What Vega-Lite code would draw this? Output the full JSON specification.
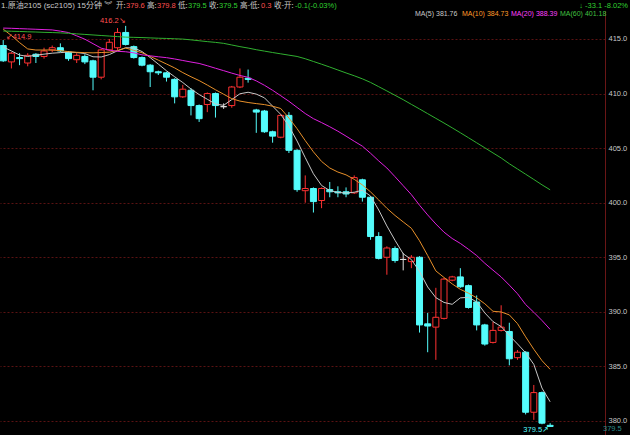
{
"$schema": "https://vega.github.io/schema/vega-lite/v6.json",
"width": 605, "height": 424,
"autosize": "none",
"padding": {"left": 0, "top": 11, "right": 25, "bottom": 0},
"background": "#000000",
"config": {"view": {"stroke": null}, "font": "Liberation Sans"},
"datasets": {
"k": [
{"i":0,"o":414.4,"h":414.9,"l":412.9,"c":413.0,"ma5":414.27,"ma10":415.9,"ma20":416.0,"ma60":415.73},
{"i":1,"o":412.9,"h":413.8,"l":412.3,"c":413.7,"ma5":413.9,"ma10":415.32,"ma20":415.98,"ma60":415.71},
{"i":2,"o":413.3,"h":413.7,"l":412.6,"c":413.2,"ma5":413.53,"ma10":414.67,"ma20":415.95,"ma60":415.69},
{"i":3,"o":412.8,"h":413.7,"l":412.5,"c":413.5,"ma5":413.4,"ma10":414.09,"ma20":415.92,"ma60":415.66},
{"i":4,"o":413.6,"h":413.7,"l":412.8,"c":413.4,"ma5":413.52,"ma10":413.99,"ma20":415.89,"ma60":415.64},
{"i":5,"o":413.4,"h":414.2,"l":413.2,"c":413.9,"ma5":413.61,"ma10":413.99,"ma20":415.86,"ma60":415.61},
{"i":6,"o":414.0,"h":414.4,"l":413.8,"c":414.2,"ma5":413.7,"ma10":413.99,"ma20":415.83,"ma60":415.59},
{"i":7,"o":414.2,"h":414.6,"l":413.8,"c":413.9,"ma5":413.75,"ma10":413.93,"ma20":415.72,"ma60":415.56},
{"i":8,"o":413.8,"h":413.9,"l":413.0,"c":413.2,"ma5":413.8,"ma10":413.84,"ma20":415.59,"ma60":415.52},
{"i":9,"o":413.1,"h":413.7,"l":412.8,"c":413.5,"ma5":413.76,"ma10":413.78,"ma20":415.29,"ma60":415.47},
{"i":10,"o":413.4,"h":413.6,"l":412.7,"c":412.9,"ma5":413.67,"ma10":413.75,"ma20":414.98,"ma60":415.42},
{"i":11,"o":413.0,"h":413.1,"l":410.3,"c":411.5,"ma5":413.37,"ma10":413.73,"ma20":414.57,"ma60":415.37},
{"i":12,"o":411.5,"h":414.1,"l":411.3,"c":414.0,"ma5":413.35,"ma10":413.76,"ma20":414.16,"ma60":415.32},
{"i":13,"o":414.0,"h":415.0,"l":413.9,"c":414.7,"ma5":413.57,"ma10":413.79,"ma20":413.98,"ma60":415.27},
{"i":14,"o":414.2,"h":416.0,"l":414.0,"c":415.6,"ma5":413.92,"ma10":413.94,"ma20":413.87,"ma60":415.22},
{"i":15,"o":415.6,"h":416.2,"l":414.4,"c":414.5,"ma5":414.2,"ma10":414.17,"ma20":413.83,"ma60":415.17},
{"i":16,"o":414.3,"h":414.4,"l":413.2,"c":413.3,"ma5":414.18,"ma10":413.96,"ma20":413.73,"ma60":415.15},
{"i":17,"o":413.3,"h":413.4,"l":412.5,"c":412.6,"ma5":413.85,"ma10":413.74,"ma20":413.55,"ma60":415.13},
{"i":18,"o":412.6,"h":412.7,"l":410.6,"c":412.0,"ma5":413.3,"ma10":413.41,"ma20":413.46,"ma60":415.1},
{"i":19,"o":412.0,"h":412.1,"l":411.7,"c":411.9,"ma5":412.7,"ma10":413.06,"ma20":413.37,"ma60":415.07},
{"i":20,"o":411.9,"h":412.0,"l":411.1,"c":411.5,"ma5":412.09,"ma10":412.71,"ma20":413.29,"ma60":415.05},
{"i":21,"o":411.3,"h":411.4,"l":409.1,"c":409.7,"ma5":411.54,"ma10":412.35,"ma20":413.17,"ma60":415.02},
{"i":22,"o":409.7,"h":410.8,"l":409.6,"c":410.4,"ma5":411.01,"ma10":411.92,"ma20":413.03,"ma60":414.99},
{"i":23,"o":410.3,"h":410.5,"l":408.0,"c":408.9,"ma5":410.42,"ma10":411.54,"ma20":412.89,"ma60":414.92},
{"i":24,"o":408.9,"h":409.0,"l":407.4,"c":407.7,"ma5":409.91,"ma10":411.19,"ma20":412.76,"ma60":414.84},
{"i":25,"o":409.0,"h":410.1,"l":408.3,"c":410.0,"ma5":409.48,"ma10":410.78,"ma20":412.55,"ma60":414.76},
{"i":26,"o":410.0,"h":410.1,"l":407.8,"c":408.9,"ma5":409.04,"ma10":410.35,"ma20":412.32,"ma60":414.69},
{"i":27,"o":408.8,"h":409.1,"l":408.6,"c":408.8,"ma5":408.92,"ma10":409.94,"ma20":412.1,"ma60":414.6},
{"i":28,"o":408.9,"h":410.7,"l":408.7,"c":410.6,"ma5":409.45,"ma10":409.53,"ma20":411.87,"ma60":414.45},
{"i":29,"o":410.6,"h":412.3,"l":410.5,"c":411.5,"ma5":409.98,"ma10":409.31,"ma20":411.66,"ma60":414.3},
{"i":30,"o":411.4,"h":412.2,"l":411.0,"c":411.3,"ma5":410.12,"ma10":409.18,"ma20":411.49,"ma60":414.17},
{"i":31,"o":408.5,"h":408.6,"l":406.4,"c":408.3,"ma5":409.95,"ma10":409.08,"ma20":411.16,"ma60":414.02},
{"i":32,"o":408.4,"h":408.5,"l":406.4,"c":406.5,"ma5":409.61,"ma10":408.99,"ma20":410.76,"ma60":413.89},
{"i":33,"o":406.5,"h":406.6,"l":405.5,"c":406.1,"ma5":408.85,"ma10":408.84,"ma20":410.3,"ma60":413.76},
{"i":34,"o":406.0,"h":408.1,"l":405.9,"c":408.0,"ma5":408.09,"ma10":408.63,"ma20":409.8,"ma60":413.64},
{"i":35,"o":408.0,"h":408.3,"l":404.55,"c":404.8,"ma5":407.02,"ma10":407.76,"ma20":409.29,"ma60":413.52},
{"i":36,"o":404.8,"h":404.9,"l":401.0,"c":401.2,"ma5":405.65,"ma10":406.78,"ma20":408.73,"ma60":413.4},
{"i":37,"o":401.1,"h":402.5,"l":400.0,"c":401.3,"ma5":404.13,"ma10":405.69,"ma20":408.17,"ma60":413.19},
{"i":38,"o":401.3,"h":401.4,"l":399.1,"c":400.1,"ma5":402.65,"ma10":404.66,"ma20":407.7,"ma60":412.94},
{"i":39,"o":400.2,"h":401.4,"l":399.5,"c":401.3,"ma5":401.58,"ma10":403.78,"ma20":407.34,"ma60":412.69},
{"i":40,"o":401.2,"h":401.9,"l":400.5,"c":401.0,"ma5":401.11,"ma10":403.18,"ma20":406.96,"ma60":412.43},
{"i":41,"o":401.0,"h":401.5,"l":400.5,"c":400.9,"ma5":400.94,"ma10":402.81,"ma20":406.55,"ma60":412.16},
{"i":42,"o":401.0,"h":401.4,"l":400.5,"c":400.8,"ma5":400.89,"ma10":402.55,"ma20":406.1,"ma60":411.89},
{"i":43,"o":400.9,"h":402.5,"l":400.8,"c":402.3,"ma5":400.96,"ma10":402.14,"ma20":405.63,"ma60":411.63},
{"i":44,"o":402.1,"h":402.2,"l":400.1,"c":400.5,"ma5":401.14,"ma10":401.63,"ma20":405.18,"ma60":411.35},
{"i":45,"o":400.5,"h":400.6,"l":396.6,"c":396.9,"ma5":400.61,"ma10":400.99,"ma20":404.53,"ma60":411.02},
{"i":46,"o":396.9,"h":397.3,"l":394.8,"c":394.9,"ma5":399.33,"ma10":400.25,"ma20":403.83,"ma60":410.63},
{"i":47,"o":395.0,"h":396.0,"l":393.4,"c":395.85,"ma5":397.87,"ma10":399.49,"ma20":403.18,"ma60":410.24},
{"i":48,"o":395.8,"h":396.0,"l":394.5,"c":394.7,"ma5":396.55,"ma10":398.83,"ma20":402.38,"ma60":409.84},
{"i":49,"o":394.8,"h":395.4,"l":393.8,"c":394.8,"ma5":395.32,"ma10":398.24,"ma20":401.56,"ma60":409.44},
{"i":50,"o":394.6,"h":395.2,"l":394.0,"c":395.0,"ma5":394.79,"ma10":397.66,"ma20":400.74,"ma60":409.01},
{"i":51,"o":395.0,"h":395.1,"l":388.1,"c":388.8,"ma5":393.7,"ma10":396.51,"ma20":399.77,"ma60":408.59},
{"i":52,"o":388.9,"h":389.9,"l":386.3,"c":388.7,"ma5":392.28,"ma10":395.16,"ma20":398.88,"ma60":408.16},
{"i":53,"o":388.6,"h":392.2,"l":385.6,"c":389.5,"ma5":391.3,"ma10":393.75,"ma20":398.05,"ma60":407.73},
{"i":54,"o":389.4,"h":393.1,"l":389.3,"c":393.0,"ma5":390.86,"ma10":393.15,"ma20":397.3,"ma60":407.3},
{"i":55,"o":392.9,"h":393.3,"l":392.8,"c":393.2,"ma5":390.69,"ma10":392.56,"ma20":396.72,"ma60":406.86},
{"i":56,"o":393.2,"h":394.0,"l":392.2,"c":392.3,"ma5":391.28,"ma10":392.06,"ma20":396.27,"ma60":406.41},
{"i":57,"o":392.4,"h":392.5,"l":390.3,"c":390.4,"ma5":391.33,"ma10":391.71,"ma20":395.73,"ma60":405.95},
{"i":58,"o":390.9,"h":391.5,"l":388.3,"c":388.8,"ma5":390.91,"ma10":391.28,"ma20":395.16,"ma60":405.49},
{"i":59,"o":388.8,"h":388.9,"l":386.9,"c":387.05,"ma5":389.9,"ma10":390.74,"ma20":394.45,"ma60":405.03},
{"i":60,"o":387.2,"h":389.1,"l":387.1,"c":388.3,"ma5":389.11,"ma10":390.05,"ma20":393.82,"ma60":404.56},
{"i":61,"o":388.3,"h":390.6,"l":388.2,"c":388.6,"ma5":388.65,"ma10":389.99,"ma20":393.2,"ma60":404.1},
{"i":62,"o":388.2,"h":389.0,"l":385.1,"c":385.7,"ma5":387.83,"ma10":389.72,"ma20":392.45,"ma60":403.57},
{"i":63,"o":385.8,"h":386.5,"l":385.6,"c":386.3,"ma5":387.06,"ma10":388.92,"ma20":391.66,"ma60":403.09},
{"i":64,"o":386.3,"h":386.4,"l":380.6,"c":380.8,"ma5":386.25,"ma10":387.71,"ma20":390.67,"ma60":402.61},
{"i":65,"o":380.8,"h":383.3,"l":380.1,"c":382.6,"ma5":385.19,"ma10":386.57,"ma20":389.96,"ma60":402.13},
{"i":66,"o":382.6,"h":382.7,"l":379.7,"c":379.8,"ma5":383.02,"ma10":385.53,"ma20":389.21,"ma60":401.64},
{"i":67,"o":379.6,"h":379.8,"l":379.5,"c":379.5,"ma5":381.76,"ma10":384.73,"ma20":388.39,"ma60":401.18}
]},
"layer": [
{"data": {"name": "k"},
 "mark": {"type": "rule", "strokeWidth": 1, "clip": true},
 "encoding": {
  "x": {"field": "i", "type": "quantitative", "scale": {"domain": [0.217, 73.11], "nice": false, "zero": false}, "axis": null},
  "y": {"field": "l", "type": "quantitative", "title": null, "scale": {"domain": [378.715, 417.565], "nice": false, "zero": false},
        "axis": {"orient": "right", "values": [380,385,390,395,400,405,410,415], "format": ".1f", "title": null, "grid": true, "gridColor": "#5a1212", "gridDash": [2,2], "gridWidth": 1, "domainColor": "#6a1616", "ticks": false, "labelPadding": 3, "labelColor": "#c8c8c8", "labelFontSize": 7.5, "labelFont": "Liberation Sans"}},
  "y2": {"field": "h"},
  "color": {"condition": [{"test": "datum.c > datum.o", "value": "#ff3232"}, {"test": "datum.c == datum.o", "value": "#e0e0e0"}], "value": "#54fcfc"}
 }},
{"data": {"name": "k"},
 "mark": {"type": "bar", "width": 6, "strokeWidth": 1, "clip": true},
 "encoding": {
  "x": {"field": "i", "type": "quantitative"},
  "y": {"field": "o", "type": "quantitative", "title": null},
  "y2": {"field": "c"},
  "fill": {"condition": [{"test": "datum.c > datum.o", "value": "#000000"}, {"test": "datum.c == datum.o", "value": "#e0e0e0"}], "value": "#54fcfc"},
  "stroke": {"condition": [{"test": "datum.c > datum.o", "value": "#ff3232"}, {"test": "datum.c == datum.o", "value": "#e0e0e0"}], "value": "#54fcfc"}
 }},
{"data": {"name": "k"}, "mark": {"type": "line", "strokeWidth": 1, "color": "#c8c8c8", "clip": true},
 "encoding": {"x": {"field": "i", "type": "quantitative"}, "y": {"field": "ma5", "type": "quantitative", "title": null}}},
{"data": {"name": "k"}, "mark": {"type": "line", "strokeWidth": 1, "color": "#e8902a", "clip": true},
 "encoding": {"x": {"field": "i", "type": "quantitative"}, "y": {"field": "ma10", "type": "quantitative", "title": null}}},
{"data": {"name": "k"}, "mark": {"type": "line", "strokeWidth": 1, "color": "#e020e0", "clip": true},
 "encoding": {"x": {"field": "i", "type": "quantitative"}, "y": {"field": "ma20", "type": "quantitative", "title": null}}},
{"data": {"name": "k"}, "mark": {"type": "line", "strokeWidth": 1, "color": "#30b030", "clip": true},
 "encoding": {"x": {"field": "i", "type": "quantitative"}, "y": {"field": "ma60", "type": "quantitative", "title": null}}},
{"data": {"values": [{}]}, "mark": {"type": "text", "text": "416.2↘", "align": "right", "baseline": "bottom", "dx": 0, "dy": -1, "fontSize": 7.5, "color": "#ff5050"},
 "encoding": {"x": {"datum": 15, "type": "quantitative"}, "y": {"datum": 416.2, "type": "quantitative"}}},
{"data": {"values": [{}]}, "mark": {"type": "text", "text": "↙414.9", "align": "left", "baseline": "middle", "dx": 0, "dy": -3, "fontSize": 7.5, "color": "#ff5050"},
 "encoding": {"x": {"datum": 0.3, "type": "quantitative"}, "y": {"datum": 414.9, "type": "quantitative"}}},
{"data": {"values": [{}]}, "mark": {"type": "text", "text": "379.5↗", "align": "right", "baseline": "top", "dx": -1, "dy": 0, "fontSize": 7.5, "color": "#54fcfc"},
 "encoding": {"x": {"datum": 67, "type": "quantitative"}, "y": {"datum": 379.5, "type": "quantitative"}}},
{"data": {"values": [{}]}, "mark": {"type": "text", "text": "379.5", "align": "left", "baseline": "middle", "dx": 3, "dy": 3, "fontSize": 7.5, "color": "#2a8c8c"},
 "encoding": {"x": {"datum": 73.11, "type": "quantitative"}, "y": {"datum": 379.5, "type": "quantitative"}}},
{"data": {"values": [{}]}, "mark": {"type": "rule", "x": 0, "x2": 630, "y": -1, "color": "#8a1a1a", "strokeWidth": 1}, "encoding": {}},
{"data": {"values": [{}]}, "mark": {"type": "text", "text": "1.原油2105 (sc2105) 15分钟 ︾", "x": 1, "y": -5, "align": "left", "baseline": "middle", "fontSize": 8, "font": "Liberation Sans, Noto Sans CJK SC", "color": "#c8c8c8"}},
{"data": {"values": [{}]}, "mark": {"type": "text", "text": "开:", "x": 116, "y": -5, "align": "left", "baseline": "middle", "fontSize": 7.5, "font": "Noto Sans CJK SC", "color": "#c8c8c8"}},
{"data": {"values": [{}]}, "mark": {"type": "text", "text": "379.6", "x": 126, "y": -5, "align": "left", "baseline": "middle", "fontSize": 7.5, "color": "#ff5050"}},
{"data": {"values": [{}]}, "mark": {"type": "text", "text": "高:", "x": 147, "y": -5, "align": "left", "baseline": "middle", "fontSize": 7.5, "font": "Noto Sans CJK SC", "color": "#c8c8c8"}},
{"data": {"values": [{}]}, "mark": {"type": "text", "text": "379.8", "x": 157, "y": -5, "align": "left", "baseline": "middle", "fontSize": 7.5, "color": "#ff5050"}},
{"data": {"values": [{}]}, "mark": {"type": "text", "text": "低:", "x": 178, "y": -5, "align": "left", "baseline": "middle", "fontSize": 7.5, "font": "Noto Sans CJK SC", "color": "#c8c8c8"}},
{"data": {"values": [{}]}, "mark": {"type": "text", "text": "379.5", "x": 188, "y": -5, "align": "left", "baseline": "middle", "fontSize": 7.5, "color": "#30d030"}},
{"data": {"values": [{}]}, "mark": {"type": "text", "text": "收:", "x": 209, "y": -5, "align": "left", "baseline": "middle", "fontSize": 7.5, "font": "Noto Sans CJK SC", "color": "#c8c8c8"}},
{"data": {"values": [{}]}, "mark": {"type": "text", "text": "379.5", "x": 219, "y": -5, "align": "left", "baseline": "middle", "fontSize": 7.5, "color": "#30d030"}},
{"data": {"values": [{}]}, "mark": {"type": "text", "text": "高-低:", "x": 240, "y": -5, "align": "left", "baseline": "middle", "fontSize": 7.5, "font": "Noto Sans CJK SC", "color": "#c8c8c8"}},
{"data": {"values": [{}]}, "mark": {"type": "text", "text": "0.3", "x": 261, "y": -5, "align": "left", "baseline": "middle", "fontSize": 7.5, "color": "#ff5050"}},
{"data": {"values": [{}]}, "mark": {"type": "text", "text": "收-开:", "x": 274, "y": -5, "align": "left", "baseline": "middle", "fontSize": 7.5, "font": "Noto Sans CJK SC", "color": "#c8c8c8"}},
{"data": {"values": [{}]}, "mark": {"type": "text", "text": "-0.1(-0.03%)", "x": 295, "y": -5, "align": "left", "baseline": "middle", "fontSize": 7.5, "color": "#30d030"}},
{"data": {"values": [{}]}, "mark": {"type": "text", "text": "↓ -33.1 -8.02%", "x": 628, "y": -5, "align": "right", "baseline": "middle", "fontSize": 7.5, "color": "#30d030"}},
{"data": {"values": [{}]}, "mark": {"type": "text", "text": "MA(5) 381.76", "x": 415, "y": 3, "align": "left", "baseline": "middle", "fontSize": 7, "color": "#c8c8c8"}},
{"data": {"values": [{}]}, "mark": {"type": "text", "text": "MA(10) 384.73", "x": 462, "y": 3, "align": "left", "baseline": "middle", "fontSize": 7, "color": "#ff9a2a"}},
{"data": {"values": [{}]}, "mark": {"type": "text", "text": "MA(20) 388.39", "x": 511, "y": 3, "align": "left", "baseline": "middle", "fontSize": 7, "color": "#ff40ff"}},
{"data": {"values": [{}]}, "mark": {"type": "text", "text": "MA(60) 401.18", "x": 560, "y": 3, "align": "left", "baseline": "middle", "fontSize": 7, "color": "#40c040"}}
]
}
